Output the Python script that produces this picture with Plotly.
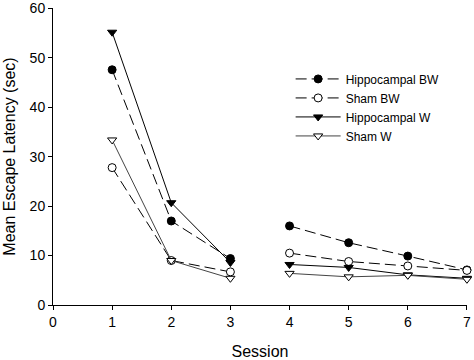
import plotly.graph_objects as go

sessions = [1, 2, 3, None, 4, 5, 6, 7]
hipp_bw = [47.6, 17.0, 9.4, None, 16.0, 12.6, 9.9, 7.1]
sham_bw = [27.8, 9.0, 6.7, None, 10.5, 8.8, 7.9, 7.0]
hipp_w = [55.2, 20.7, 8.6, None, 8.2, 7.6, 6.1, 5.4]
sham_w = [33.4, 9.0, 5.4, None, 6.4, 5.7, 6.0, 5.2]

series = [
    ("Hippocampal BW", hipp_bw, "circle", "black", "dash", "black"),
    ("Sham BW", sham_bw, "circle", "white", "dash", "black"),
    ("Hippocampal W", hipp_w, "triangle-down", "black", "solid", "black"),
    ("Sham W", sham_w, "triangle-down", "white", "solid", "#444444"),
]

fig = go.Figure()
for name, vals, sym, fill, dash, col in series:
    fig.add_trace(go.Scatter(
        x=sessions, y=vals, name=name, mode="lines+markers",
        connectgaps=False, cliponaxis=False,
        line=dict(color=col, width=1, dash="11px,5px" if dash == "dash" else "solid"),
        marker=dict(symbol=sym, size=8, color=fill,
                    line=dict(color="black", width=1)),
    ))

fig.update_layout(
    width=474, height=360,
    margin=dict(l=53, r=7, t=8, b=55),
    paper_bgcolor="white", plot_bgcolor="white",
    font=dict(family="Liberation Sans, Arial", size=13, color="black"),
    showlegend=True,
    legend=dict(x=0.574, y=0.81, xanchor="left", yanchor="top",
                font=dict(size=12), itemwidth=45, tracegroupgap=0,
                bgcolor="rgba(0,0,0,0)"),
    xaxis=dict(range=[0, 7.001], tickmode="array", tickvals=[0, 1, 2, 3, 4, 5, 6, 7],
               ticks="outside", ticklen=4, tickcolor="black", showline=True,
               linecolor="black", linewidth=1, showgrid=False, zeroline=False,
               tickfont=dict(size=14), automargin=False,
               title=dict(text="Session", font=dict(size=16), standoff=20)),
    yaxis=dict(range=[0, 60.1], tickmode="array", tickvals=[0, 10, 20, 30, 40, 50, 60],
               ticks="outside", ticklen=4, tickcolor="black", showline=True,
               linecolor="black", linewidth=1, showgrid=False, zeroline=False,
               tickfont=dict(size=14), automargin=False,
               title=dict(text="Mean Escape Latency (sec)", font=dict(size=16), standoff=10)),
)

fig.write_html("out.html", config={"displayModeBar": False},
               post_script="document.body.style.margin='0';")
